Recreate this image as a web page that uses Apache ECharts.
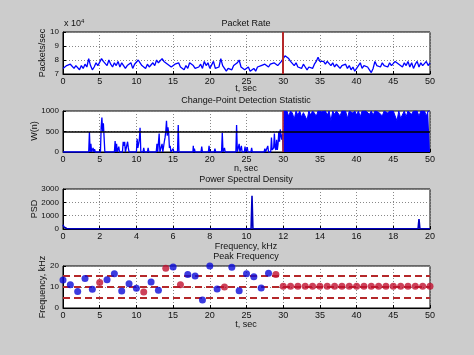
<!DOCTYPE html>
<html><head><meta charset="utf-8">
<script src="https://cdn.jsdelivr.net/npm/echarts@6/dist/echarts.min.js"></script>
<style>html,body{margin:0;padding:0;background:#cccccc;}#c{width:474px;height:355px;}</style>
</head><body><div id="c"></div>
<script>
// ---- Packet rate (x 10^4 packets/sec), sampled every 0.25 s from t = 0 to 50
const prStep = 0.25;
const packetRate = [
7.4,7.3,7.6,7.5,7.7,7.6,7.4,7.6,7.5,7.3,7.6,7.4,7.7,7.5,8.1,7.6,7.3,7.5,7.8,7.6,7.7,
8.1,7.9,7.8,7.6,8.0,7.7,7.5,7.8,7.6,7.9,7.5,7.8,7.7,7.4,7.6,7.5,7.8,7.4,7.7,7.6,
8.0,7.8,7.6,7.5,7.4,7.7,7.5,7.6,7.8,7.6,8.0,7.8,7.9,8.1,7.9,8.0,7.7,7.8,7.5,7.6,
7.7,7.6,7.8,7.5,7.4,7.3,7.6,7.4,7.8,7.9,7.6,7.4,7.3,7.5,7.7,7.4,7.9,7.6,7.8,7.4,
7.5,7.9,7.4,7.3,7.5,8.1,7.6,7.4,7.2,7.4,7.5,7.3,7.6,7.5,7.8,8.0,7.5,7.4,7.3,7.4,
7.5,7.2,7.3,7.4,7.2,7.5,7.4,7.6,7.5,7.7,7.6,7.5,7.7,7.6,7.8,7.7,7.6,7.7,7.9,7.8,
8.3,8.2,8.1,7.9,8.0,7.6,7.8,7.5,7.6,7.4,7.7,7.5,7.3,7.5,7.6,7.4,7.7,7.9,8.2,7.9,
8.0,7.9,7.7,7.9,7.8,7.6,7.8,7.5,7.7,7.6,7.4,7.6,7.5,7.7,7.4,7.6,7.3,7.5,7.2,7.4,
7.5,7.8,7.4,7.6,7.7,7.5,7.3,7.1,7.4,7.9,7.6,7.7,7.5,7.8,7.6,7.7,7.5,7.8,7.6,7.7,
7.9,8.0,7.7,7.6,7.5,7.8,7.6,7.9,7.5,7.8,7.4,7.7,7.9,7.5,7.8,7.6,7.7,7.9,7.6,7.8
];
const changePoint = 30;

// ---- Change-point detection statistic W(n): [n (sec), W]
const wPre = [[0,0],[3.5,0],[3.6,490],[3.7,0],[3.8,200],[3.9,0],[4.1,100],[4.2,0],[4.3,70],[4.4,0],[5.1,0],[5.2,600],[5.3,840],[5.4,500],[5.5,700],[5.6,350],[5.7,0],[7.0,0],[7.1,270],[7.2,0],[7.3,200],[7.4,0],[7.6,130],[7.7,0],[8.1,0],[8.2,250],[8.3,150],[8.4,250],[8.5,0],[8.7,0],[8.8,250],[8.9,100],[9.0,0],[10.0,0],[10.1,320],[10.2,100],[10.4,300],[10.5,590],[10.6,0],[10.9,0],[11.0,100],[11.1,0],[11.5,0],[11.6,100],[11.7,0],[12.7,0],[12.8,200],[12.9,0],[13.0,0],[13.1,450],[13.2,0],[13.4,0],[13.5,200],[13.6,0],[13.7,0],[13.8,250],[13.9,350],[14.0,500],[14.1,760],[14.2,400],[14.3,600],[14.4,450],[14.5,100],[14.6,150],[14.7,0],[14.9,0],[15.0,80],[15.1,0],[15.6,0],[15.7,660],[15.8,0],[17.7,0],[17.75,150],[17.8,0],[17.9,80],[18.0,0],[18.8,0],[18.9,130],[19.0,0],[19.8,0],[19.9,150],[20.0,0],[20.6,0],[20.7,80],[20.8,0],[21.6,0],[21.7,470],[21.8,0],[21.9,0],[22.0,100],[22.1,0],[23.55,0],[23.65,660],[23.75,0],[23.9,0],[24.0,200],[24.1,0],[24.2,0],[24.3,150],[24.4,0],[24.7,0],[24.8,130],[24.9,0],[25.0,0],[25.1,120],[25.2,0],[25.6,0],[25.7,100],[25.8,0],[27.4,0],[27.5,80],[27.6,0],[27.8,0],[27.9,150],[28.0,0],[28.3,0],[28.4,350],[28.5,50],[28.7,100],[28.8,450],[28.9,100],[29.0,50],[29.1,300],[29.2,50],[29.3,200],[29.4,500],[29.5,250],[29.6,550],[29.7,400],[29.8,300],[29.9,450],[30.0,0]];
// after the change point: upper envelope of W(n), every 0.25 s from 30 to 50
const wPostStart = 30, wPostStep = 0.25;
const wPost = [
1000,980,1000,870,1000,950,800,1000,900,1000,850,960,1000,780,1000,900,1000,950,870,1000,1000,
980,1000,1000,900,1000,760,1000,920,1000,1000,880,1000,970,1000,820,1000,1000,950,1000,900,
1000,860,1000,980,1000,1000,920,1000,900,1000,1000,970,1000,880,1000,1000,950,1000,990,1000,
880,760,1000,820,780,1000,860,1000,1000,920,1000,960,1000,870,1000,980,1000,880,1000,1000
];
const wThreshold = 500;

// ---- Power spectral density
const psdFreq = [0,0.05,0.1,0.2,0.3,0.5,10.25,10.3,10.35,19.35,19.4,19.45,20];
const psdVal  = [320,150,70,35,20,15,15,2500,15,15,750,15,15];

// ---- Peak frequency (kHz) at t = 0..50 s, alarm flag 1 = red
const peakT = [0,1,2,3,4,5,6,7,8,9,10,11,12,13,14,15,16,17,18,19,20,21,22,23,24,25,26,27,28,29,30,31,32,33,34,35,36,37,38,39,40,41,42,43,44,45,46,47,48,49,50];
const peakFreq = [13.3,11.1,7.8,14.1,8.9,12.2,13.5,16.3,8.1,11.6,9.4,7.6,12.4,8.4,18.9,19.5,11.1,16.0,15.2,3.8,20.0,9.0,10.0,19.4,8.2,16.3,14.9,9.5,16.5,15.9,
10.3,10.3,10.3,10.3,10.3,10.3,10.3,10.3,10.3,10.3,10.3,10.3,10.3,10.3,10.3,10.3,10.3,10.3,10.3,10.3,10.3];
const peakAlarm = [0,0,0,0,0,1,0,0,0,0,0,1,0,0,1,0,1,0,0,0,0,0,1,0,0,0,0,0,0,1,
1,1,1,1,1,1,1,1,1,1,1,1,1,1,1,1,1,1,1,1,1];
const freqBands = [15.4,10.2,5.1];

// ---------------- build chart ----------------
const FONT = 'Liberation Sans, Arial, sans-serif';
const BLUE = '#0000ff', RED = '#c01030', DARKRED = '#b5282a';
const L = 63, W = 367;
const grids = [
  {top:32,height:42},{top:111,height:41},{top:189,height:40},{top:266,height:42}
].map(g => ({left:L, width:W, top:g.top, height:g.height, show:true, backgroundColor:'#fff', borderColor:'#000', borderWidth:1}));

const GRIDLINE = {show:true,lineStyle:{color:'#888',type:[1,2],width:1}};
function xAx(i, max, interval){
  return {gridIndex:i, type:'value', min:0, max:max, interval:interval,
    axisLine:{show:true,onZero:false,lineStyle:{color:'#000'}},
    axisTick:{show:true,inside:true,length:3,lineStyle:{color:'#000'}},
    axisLabel:{fontSize:9,color:'#111',margin:3,fontFamily:FONT,formatter:v=>String(v)},
    splitLine:GRIDLINE};
}
function yAx(i, min, max, interval){
  return {gridIndex:i, type:'value', min:min, max:max, interval:interval,
    axisLine:{show:true,lineStyle:{color:'#000'}},
    axisTick:{show:true,inside:true,length:3,lineStyle:{color:'#000'}},
    axisLabel:{fontSize:8,color:'#111',margin:4,fontFamily:FONT,formatter:v=>String(v)},
    splitLine:GRIDLINE};
}

const prData = packetRate.map((v,i)=>[i*prStep, v]);
const wPostData = wPost.map((v,i)=>[wPostStart + i*wPostStep, v]);
const psdData = psdFreq.map((f,i)=>[f, psdVal[i]]);
const blueDots = [], redDots = [];
peakT.forEach((t,i)=>{ (peakAlarm[i] ? redDots : blueDots).push([t, peakFreq[i]]); });

function txt(x,y,s,opt){
  return Object.assign({type:'text', x:x, y:y, silent:true,
    style:{text:s, fill:'#111', font:'9px '+FONT, textAlign:'center', textVerticalAlign:'middle'}}, opt||{});
}

const option = {
  animation:false,
  backgroundColor:'#cccccc',
  grid:grids,
  xAxis:[xAx(0,50,5), xAx(1,50,5), xAx(2,20,2), xAx(3,50,5)],
  yAxis:[yAx(0,7,10,1), yAx(1,0,1000,500), yAx(2,0,3000,1000), yAx(3,0,20,10)],
  series:[
    {type:'line', xAxisIndex:0, yAxisIndex:0, data:prData, showSymbol:false, lineStyle:{color:BLUE,width:1.3},
     markLine:{silent:true,symbol:'none',label:{show:false},lineStyle:{color:DARKRED,width:2,type:'solid'},data:[{xAxis:changePoint}]}},
    {type:'line', xAxisIndex:1, yAxisIndex:1, data:wPre, showSymbol:false, lineStyle:{color:BLUE,width:1.3}},
    {type:'line', xAxisIndex:1, yAxisIndex:1, data:wPostData, showSymbol:false, lineStyle:{color:BLUE,width:1},
     areaStyle:{color:BLUE,opacity:1},
     markLine:{silent:true,symbol:'none',label:{show:false},lineStyle:{color:DARKRED,width:1.5,type:'solid'},data:[{xAxis:changePoint}]}},
    {type:'line', xAxisIndex:1, yAxisIndex:1, data:[], z:5,
     markLine:{silent:true,symbol:'none',label:{show:false},lineStyle:{color:'#000',width:1.5,type:'solid'},data:[{yAxis:wThreshold}]}},
    {type:'line', xAxisIndex:2, yAxisIndex:2, data:psdData, showSymbol:false, lineStyle:{color:'#0000c0',width:1.6}},
    {type:'scatter', xAxisIndex:3, yAxisIndex:3, data:blueDots, symbolSize:7, clip:false, itemStyle:{color:'#0a0ad8'}, z:3},
    {type:'scatter', xAxisIndex:3, yAxisIndex:3, data:redDots, symbolSize:7, clip:false, itemStyle:{color:RED}, z:3,
     markLine:{silent:true,symbol:'none',label:{show:false},z:2,lineStyle:{color:DARKRED,width:2,type:[7,4]},
       data:freqBands.map(v=>({yAxis:v}))}}
  ],
  graphic:[
    txt(246,24,'Packet Rate'),
    txt(246,101,'Change-Point Detection Statistic'),
    txt(246,180,'Power Spectral Density'),
    txt(246,257,'Peak Frequency'),
    txt(246,89,'t, sec'),
    txt(246,169,'n, sec'),
    txt(246,247,'Frequency, kHz'),
    txt(246,325,'t, sec'),
    {type:'text', x:64, y:24, silent:true, style:{text:'x 10{s|4}', fill:'#111', font:'9px '+FONT, textAlign:'left', textVerticalAlign:'middle',
      rich:{s:{fontSize:6, verticalAlign:'top', padding:[0,0,6,0]}}}},
    txt(43,53,'Packets/sec',{rotation:Math.PI/2}),
    txt(35,131,'W(n)',{rotation:Math.PI/2}),
    txt(35,209,'PSD',{rotation:Math.PI/2}),
    txt(43,287,'Frequency, kHz',{rotation:Math.PI/2})
  ]
};
const chart = echarts.init(document.getElementById('c'), null, {renderer:'canvas'});
chart.setOption(option);
</script></body></html>
